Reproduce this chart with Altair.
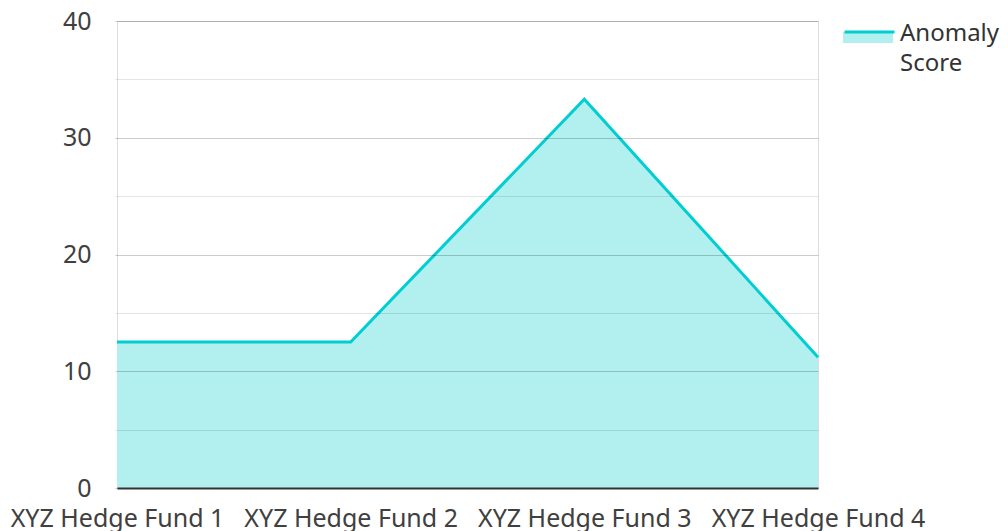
import altair as alt
import pandas as pd

funds = ["XYZ Hedge Fund 1", "XYZ Hedge Fund 2", "XYZ Hedge Fund 3", "XYZ Hedge Fund 4"]
scores = [12.5, 12.5, 33.3, 11.2]
series_name = "Anomaly Score"
y_ticks = [0, 5, 10, 15, 20, 25, 30, 35, 40]

df = pd.DataFrame({
    "fund": funds,
    "score": scores,
    "series_fill": [series_name] * len(funds),
    "series_line": [series_name] * len(funds),
})

FONT = "Noto Sans"
LINE = "#00CED1"
FILL = "#B2EFEF"
TEXT = "#404040"

major = "datum.value % 10 == 0"

x = alt.X(
    "fund:N",
    sort=funds,
    scale=alt.Scale(type="point", padding=0),
    axis=alt.Axis(
        title=None, labelAngle=0, ticks=False, tickSize=0, labelPadding=18,
        labelFontSize=25, labelFont=FONT, labelColor=TEXT, labelLimit=400,
        domainColor="#333333", domainWidth=2, grid=False, zindex=1,
    ),
)
y = alt.Y(
    "score:Q",
    scale=alt.Scale(domain=[0, 40], nice=False),
    axis=alt.Axis(
        title=None, values=y_ticks,
        labelExpr="datum.value % 10 == 0 ? datum.label : ''",
        ticks=True, tickSize=2,
        tickColor="#000000",
        tickOpacity={"condition": {"test": major, "value": 0.2}, "value": 0.1},
        domain=False, labelPadding=24,
        labelFontSize=25, labelFont=FONT, labelColor=TEXT,
        gridColor="#000000",
        gridOpacity={"condition": {"test": major, "value": 0.2}, "value": 0.1},
        gridWidth=1, zindex=1,
    ),
)

LEG_X = 726
LEG_Y = -6.4

area = alt.Chart(df).mark_area(opacity=1).encode(
    x=x, y=y,
    fill=alt.Fill(
        "series_fill:N",
        scale=alt.Scale(range=[FILL]),
        legend=alt.Legend(
            title=None, orient="none", legendX=LEG_X, legendY=LEG_Y, padding=0,
            symbolType="M-1,-0.29H1V0.14H-1Z", symbolSize=2500,
            symbolStrokeWidth=0, symbolOpacity=1,
            labelExpr="''", labelFontSize=24, labelOffset=4, zindex=0,
        ),
    ),
)

line = alt.Chart(df).mark_line(strokeWidth=3).encode(
    x=x, y=y,
    stroke=alt.Stroke(
        "series_line:N",
        scale=alt.Scale(range=[LINE]),
        legend=alt.Legend(
            title=None, orient="none", legendX=LEG_X, legendY=LEG_Y, padding=0,
            symbolType="M-1,-0.36H1", symbolSize=2500, symbolStrokeWidth=3,
            labelExpr="['Anomaly', 'Score']", labelFontSize=24, labelFont=FONT,
            labelColor="#333333", labelOffset=4, labelBaseline="alphabetic",
            labelLimit=300, zindex=1,
        ),
    ),
)

chart = alt.layer(area, line).properties(
    width=701,
    height=467,
    autosize=alt.AutoSizeParams(type="none"),
    padding={"left": 109, "top": 13, "right": 182, "bottom": 45},
).configure_view(stroke=None).configure(
    font=FONT,
    style={"guide-label": {"lineHeight": 30}},
)

chart.save("out.html", embed_options={"renderer": "svg", "actions": False})
